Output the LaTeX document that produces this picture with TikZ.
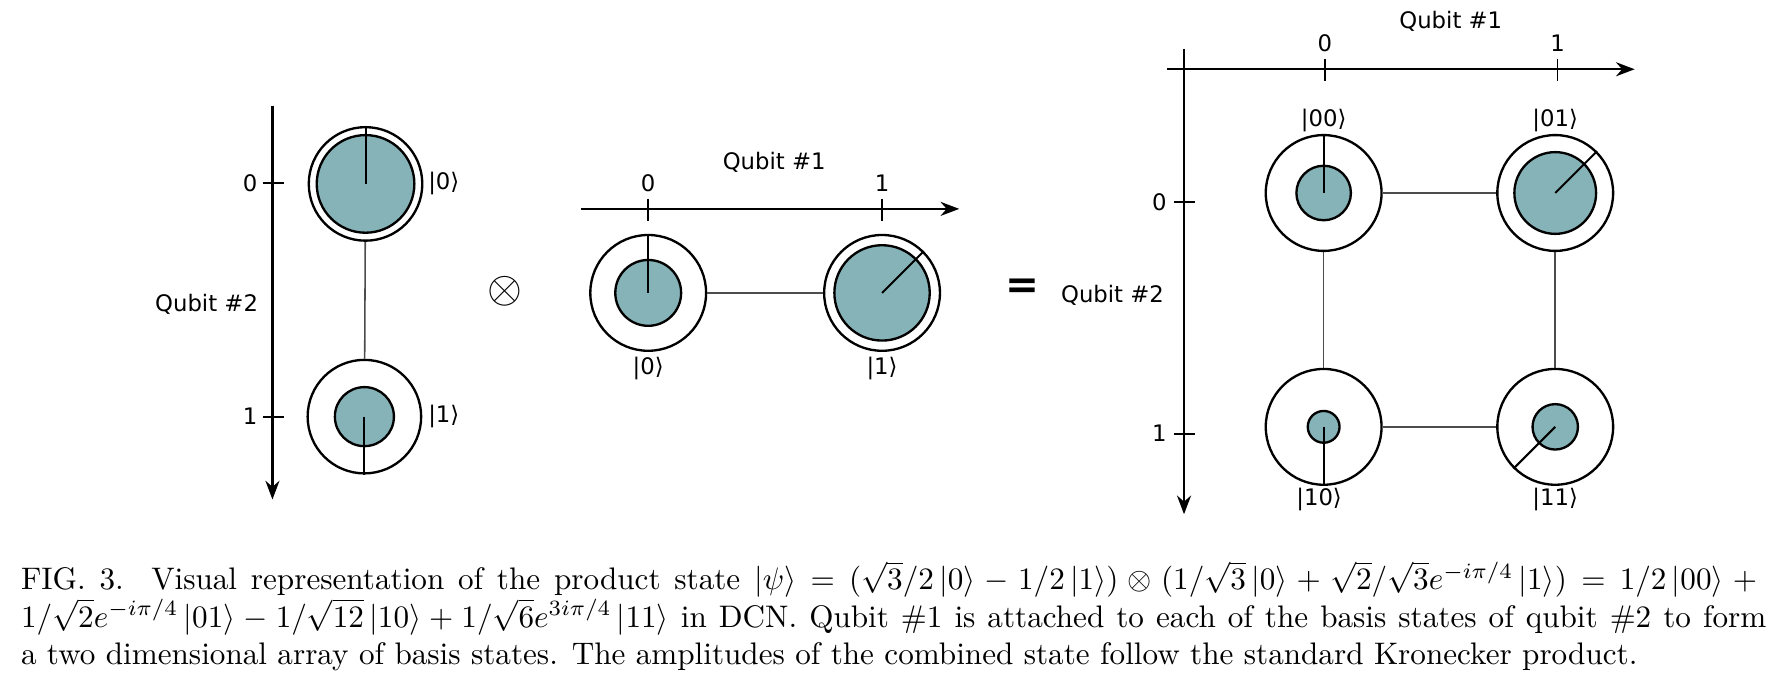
\documentclass[tikz,border=0pt]{standalone}
\usepackage{fontspec}
\usepackage{amsmath}
\newfontfamily\djsans{DejaVu Sans}
\usetikzlibrary{arrows.meta}
\definecolor{amp}{HTML}{86B3B8}
\tikzset{
  ax/.style={line width=0.75pt,-{Stealth[length=6pt,width=4.5pt]}},
  tick/.style={line width=0.6pt},
  outer/.style={circle,draw,line width=0.75pt,inner sep=0pt,minimum size=#1*0.0256cm},
  inner/.style={fill=amp,draw,line width=0.75pt},
  ph/.style={line width=0.65pt},
  con/.style={line width=0.5pt,draw=black!70},
  lab/.style={font=\djsans\fontsize{7.3}{8.5}\selectfont,inner sep=1pt},
}
\begin{document}
\begin{tikzpicture}[x=0.0128cm,y=-0.0128cm]
\useasboundingbox (0,0) rectangle (1568,603);
% ---------- left: qubit 2
\draw[ax] (240,93) -- (240,440);
\draw[tick] (232,161) -- (250,161); \node[lab,anchor=east] (l0) at (230,161) {0};
\draw[tick] (232,367) -- (250,367); \node[lab,anchor=east] (l1) at (230,367) {1};
\node[lab] (lq2) at (182,268) {Qubit \#2};
\node[outer=50] (a0) at (322,162) {};
\fill[inner] (a0.center) circle[radius=43];
\draw[ph] (a0.center) -- (a0.north);
\node[lab,anchor=west] (ka0) at (374,162) {|0⟩};
\node[outer=50] (a1) at (321,367) {};
\fill[inner] (a1.center) circle[radius=26];
\draw[ph] (a1.center) -- (a1.south);
\node[lab,anchor=west] (ka1) at (374,367) {|1⟩};
\draw[con] (a0) -- (a1);
% otimes
\node[font=\fontsize{14}{16}\selectfont] (ot) at (445,257) {$\otimes$};
% ---------- middle: qubit 1
\draw[ax] (512,184) -- (845,184);
\draw[tick] (571,175) -- (571,195); \node[lab] (m0) at (571,161) {0};
\draw[tick] (777,175) -- (777,195); \node[lab] (m1) at (777,161) {1};
\node[lab] (mq1) at (682,143) {Qubit \#1};
\node[outer=51] (b0) at (571,258) {};
\fill[inner] (b0.center) circle[radius=29];
\draw[ph] (b0.center) -- (b0.north);
\node[lab] (kb0) at (571,325) {|0⟩};
\node[outer=51] (b1) at (777,258) {};
\fill[inner] (b1.center) circle[radius=42];
\draw[ph] (b1.center) -- (b1.north east);
\node[lab] (kb1) at (777,325) {|1⟩};
\draw[con] (b0) -- (b1);
% equals
\node[font=\djsans\bfseries\fontsize{13}{15}\selectfont] (eq) at (901,254) {=};
\node[lab] (rq2) at (980,260) {Qubit \#2};
% ---------- right: product
\draw[ax] (1028,61) -- (1440,61);
\draw[ax] (1043,43) -- (1043,453);
\draw[tick] (1167,52) -- (1167,71); \node[lab] (r0) at (1167,38) {0};
\draw[tick] (1372,52) -- (1372,71); \node[lab] (r1) at (1372,38) {1};
\node[lab] (rq1) at (1278,19) {Qubit \#1};
\draw[tick] (1034,178) -- (1053,178); \node[lab,anchor=east] (s0) at (1031,178) {0};
\draw[tick] (1034,382) -- (1053,382); \node[lab,anchor=east] (s1) at (1031,382) {1};
\node[outer=51] (c00) at (1166,170) {};
\fill[inner] (c00.center) circle[radius=24];
\draw[ph] (c00.center) -- (c00.north);
\node[lab] (k00) at (1166,106) {|00⟩};
\node[outer=51] (c01) at (1370,170) {};
\fill[inner] (c01.center) circle[radius=36];
\draw[ph] (c01.center) -- (c01.north east);
\node[lab] (k01) at (1370,106) {|01⟩};
\node[outer=51] (c10) at (1166,376) {};
\fill[inner] (c10.center) circle[radius=14];
\draw[ph] (c10.center) -- (c10.south);
\node[lab] (k10) at (1162,440) {|10⟩};
\node[outer=51] (c11) at (1370,376) {};
\fill[inner] (c11.center) circle[radius=20];
\draw[ph] (c11.center) -- (c11.south west);
\node[lab] (k11) at (1370,440) {|11⟩};
\draw[con] (c00) -- (c01);
\draw[con] (c10) -- (c11);
\draw[con] (c00) -- (c10);
\draw[con] (c01) -- (c11);
% ---------- caption
\node[anchor=north west,inner sep=0pt,text width=560pt,align=justify,font=\fontsize{10}{12}\selectfont] (cap) at (18,494) {FIG.~3.\ \ Visual representation of the product state $|\psi\rangle=(\sqrt{3}/2\,|0\rangle-1/2\,|1\rangle)\otimes(1/\sqrt{3}\,|0\rangle+\sqrt{2}/\sqrt{3}e^{-i\pi/4}\,|1\rangle)=1/2\,|00\rangle+{}$\linebreak $1/\sqrt{2}e^{-i\pi/4}\,|01\rangle-1/\sqrt{12}\,|10\rangle+1/\sqrt{6}e^{3i\pi/4}\,|11\rangle$ in DCN. Qubit \#1 is attached to each of the basis states of qubit \#2 to form\linebreak a two dimensional array of basis states. The amplitudes of the combined state follow the standard Kronecker product.};
\end{tikzpicture}
\end{document}
